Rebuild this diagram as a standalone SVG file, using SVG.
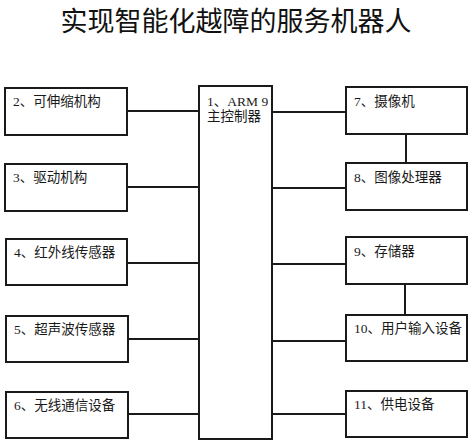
<svg xmlns="http://www.w3.org/2000/svg" width="474" height="444" viewBox="0 0 474 444">
<style>
.box{fill:#fff;stroke:#1a1a1a;stroke-width:2}
.t{font-family:"Liberation Serif","Noto Sans CJK SC",serif;font-size:13.5px;fill:#1a1a1a}
.title{font-family:"Noto Sans CJK SC",sans-serif;font-size:27px;fill:#111;text-anchor:middle}
.c line{stroke:#1a1a1a;stroke-width:2}
</style>
<rect width="474" height="444" fill="#fff"/>
<text class="title" x="236" y="31">实现智能化越障的服务机器人</text>
<g class="c">
<line x1="127" y1="111" x2="199" y2="111"/>
<line x1="127" y1="187" x2="199" y2="187"/>
<line x1="127" y1="263" x2="199" y2="263"/>
<line x1="128" y1="339" x2="199" y2="339"/>
<line x1="128" y1="414" x2="199" y2="414"/>
<line x1="272" y1="112" x2="346" y2="112"/>
<line x1="272" y1="188" x2="346" y2="188"/>
<line x1="272" y1="264" x2="346" y2="264"/>
<line x1="272" y1="341" x2="346" y2="341"/>
<line x1="272" y1="414" x2="346" y2="414"/>
<line x1="406" y1="134" x2="406" y2="163"/>
<line x1="405" y1="284" x2="405" y2="315"/>
</g>
<g id="n1"><rect class="box" x="199" y="86" width="73" height="353"/><text class="t" x="207" y="106">1、ARM 9</text><text class="t" x="207" y="121">主控制器</text></g>
<g id="n2"><rect class="box" x="5" y="88" width="122" height="47"/><text class="t" x="13" y="106">2、可伸缩机构</text></g>
<g id="n3"><rect class="box" x="5" y="164" width="122" height="47"/><text class="t" x="13" y="182">3、驱动机构</text></g>
<g id="n4"><rect class="box" x="6" y="239" width="121" height="46"/><text class="t" x="14" y="257">4、红外线传感器</text></g>
<g id="n5"><rect class="box" x="6" y="316" width="122" height="46"/><text class="t" x="14" y="334">5、超声波传感器</text></g>
<g id="n6"><rect class="box" x="6" y="392" width="122" height="46"/><text class="t" x="14" y="410">6、无线通信设备</text></g>
<g id="n7"><rect class="box" x="346" y="87" width="121" height="47"/><text class="t" x="354" y="106">7、摄像机</text></g>
<g id="n8"><rect class="box" x="346" y="163" width="121" height="47"/><text class="t" x="354" y="182">8、图像处理器</text></g>
<g id="n9"><rect class="box" x="346" y="237" width="121" height="47"/><text class="t" x="354" y="256">9、存储器</text></g>
<g id="n10"><rect class="box" x="346" y="315" width="121" height="46"/><text class="t" x="354" y="333">10、用户输入设备</text></g>
<g id="n11"><rect class="box" x="346" y="391" width="121" height="46"/><text class="t" x="354" y="409">11、供电设备</text></g>
</svg>
